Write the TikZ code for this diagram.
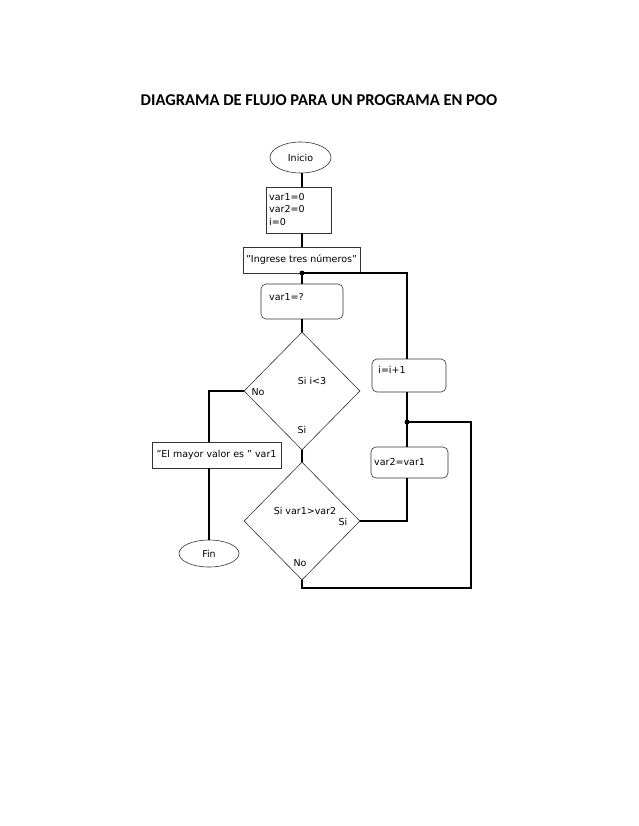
\documentclass[tikz,border=0pt]{standalone}
\usepackage{fontspec}
\setmainfont{DejaVu Sans}
\newfontfamily\titlefont{Carlito}
\usetikzlibrary{shapes.geometric}
\begin{document}
\begin{tikzpicture}[x=1pt,y=-1pt,
  box/.style={draw=black!80,line width=0.6pt,inner sep=0pt,font=\fontsize{9.5}{11}\selectfont},
  rbox/.style={box,rounded corners=5pt},
  oval/.style={ellipse,draw=black!80,line width=0.6pt,inner sep=0pt,font=\fontsize{9.5}{11}\selectfont},
  dia/.style={diamond,draw=black!80,line width=0.6pt,inner sep=0pt,minimum width=116pt,minimum height=118pt},
  lbl/.style={font=\fontsize{9.5}{11}\selectfont,inner sep=0pt},
  conn/.style={line width=1.4pt},
  dot/.style={circle,fill=black,inner sep=0pt,minimum size=5pt}]
\useasboundingbox (0,0) rectangle (638,826);
\node[font=\titlefont\bfseries\fontsize{16.5}{18}\selectfont] (title) at (319,100) {DIAGRAMA DE FLUJO PARA UN PROGRAMA EN POO};
\node[oval,minimum width=61pt,minimum height=31pt] (ini) at (300.5,157.5) {Inicio};
\node[box,minimum width=65pt,minimum height=46pt] (vars) at (298.5,210) {};
\node[lbl,anchor=north west,align=left,font=\fontsize{9.5}{12.5}\selectfont] (varst) at (269,193) {var1=0\\var2=0\\i=0};
\node[box,minimum width=117pt,minimum height=26pt] (ing) at (301.5,260) {"Ingrese tres números"};
\node[rbox,minimum width=82pt,minimum height=35pt] (v1) at (302,301.5) {};
\node[lbl,anchor=west] (v1t) at (269,297) {var1=?};
\node[dia] (d1) at (302,391) {};
\node[lbl] (d1t) at (312,381) {Si i<3};
\node[lbl] (d1no) at (258,392) {No};
\node[lbl] (d1si) at (302,430) {Si};
\node[box,minimum width=129pt,minimum height=26pt] (may) at (216.5,455) {"El mayor valor es " var1};
\node[oval,minimum width=60pt,minimum height=27pt] (fin) at (209,553.5) {Fin};
\node[dia] (d2) at (302,521) {};
\node[lbl] (d2t) at (305,511) {Si var1>var2};
\node[lbl] (d2si) at (343,522) {Si};
\node[lbl] (d2no) at (300,563) {No};
\node[rbox,minimum width=74pt,minimum height=33pt] (inc) at (409,375.5) {};
\node[lbl] (inct) at (392,370) {i=i+1};
\node[rbox,minimum width=77pt,minimum height=31pt] (v2) at (409.5,462.5) {};
\node[lbl,anchor=west] (v2t) at (374,462) {var2=var1};
\coordinate (j1) at (302,273);
\coordinate (j2) at (407,422);
\coordinate (c1) at (407,273);
\coordinate (c2) at (209,391);
\coordinate (c3) at (407,521);
\coordinate (c4) at (302,588);
\coordinate (c5) at (471,588);
\coordinate (c6) at (471,422);
\draw[conn] (ini.south -| j1) -- (vars.north -| j1);
\draw[conn] (vars.south -| j1) -- (ing.north -| j1);
\draw[conn] (j1) -- (v1.north);
\draw[conn] (j1) -- (c1) -- (inc.north -| c1);
\draw[conn] (v1.south) -- (d1.north);
\draw[conn] (d1.west) -- (c2) -- (may.north -| c2);
\draw[conn] (may.south -| c2) -- (fin.north);
\draw[conn] (d1.south) -- (d2.north);
\draw[conn] (inc.south -| j2) -- (j2) -- (v2.north -| j2);
\draw[conn] (v2.south -| c3) -- (c3) -- (d2.east);
\draw[conn] (d2.south) -- (c4) -- (c5) -- (c6) -- (j2);
\node[dot] (dot1) at (j1) {};
\node[dot] (dot2) at (j2) {};
\end{tikzpicture}
\end{document}
